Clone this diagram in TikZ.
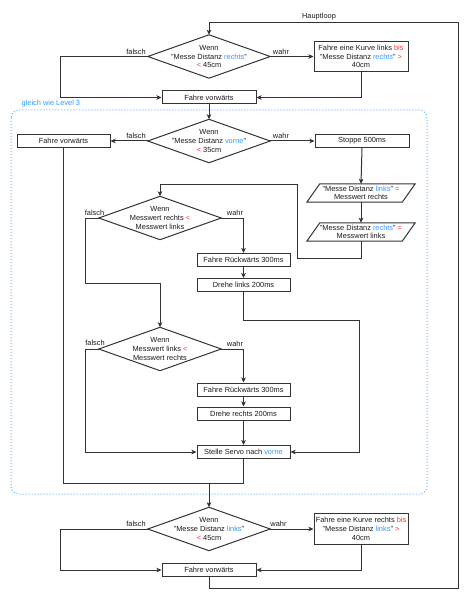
\documentclass[tikz,border=0pt]{standalone}
\usepackage{fontspec}
\setmainfont{Liberation Sans}
\usetikzlibrary{arrows.meta}
\definecolor{bl}{HTML}{3399FF}
\definecolor{rd}{HTML}{FF3333}
\definecolor{ln}{HTML}{333333}
\definecolor{txt}{HTML}{1A1A1A}
\definecolor{dotc}{HTML}{66B2FF}
\newcommand\tx{\fontsize{7.4}{8.7}\selectfont}
\newcommand\bluetxt[1]{\textcolor{bl}{#1}}
\newcommand\redtxt[1]{\textcolor{rd}{#1}}
\newcommand\drawdiamond[1]{\draw[line] (#1.north) -- (#1.east) -- (#1.south) -- (#1.west) -- cycle;}
\newcommand\drawpara[1]{\draw[line] ([xshift=6.5pt]#1.north west) -- ([xshift=6.5pt]#1.north east) -- ([xshift=-6.5pt]#1.south east) -- ([xshift=-6.5pt]#1.south west) -- cycle;}
\begin{document}
\begin{tikzpicture}[x=1pt,y=-1pt,
  line/.style={draw=ln, line width=1pt},
  arr/.style={line, -{Stealth[length=5pt,width=4.5pt,inset=1.2pt]}},
  box/.style={draw=ln, line width=1pt, rectangle, minimum width=94pt, minimum height=13pt, inner sep=0pt, font=\tx, text=txt, align=center},
  dia/.style={rectangle, minimum width=122pt, minimum height=43pt, inner sep=0pt, font=\tx, text=txt, align=center},
  para/.style={rectangle, minimum width=95pt, minimum height=18pt, inner sep=0pt, font=\tx, text=txt, align=center},
  lbl/.style={font=\tx, text=txt, inner sep=0pt}]
\useasboundingbox (0,0) rectangle (474,604);

% container
\draw[dotc, line width=1pt, dash pattern=on 1pt off 2pt, rounded corners=8pt] (11,110) rectangle (427,494);
\node[lbl, text=bl, anchor=west] (lvl) at (21.5,104) {gleich wie Level 3};

% nodes
\node[dia] (d1) at (209,56.5) {Wenn\\"Messe Distanz \bluetxt{rechts}"\\\redtxt{<} 45cm};
\node[box, minimum height=30pt] (b1) at (361,56.5) {Fahre eine Kurve links \redtxt{bis}\\"Messe Distanz \bluetxt{rechts}" \redtxt{>}\\40cm};
\node[box] (fv1) at (209,97.5) {Fahre vorwärts};
\node[dia] (d2) at (209,141) {Wenn\\"Messe Distanz \bluetxt{vorne}"\\\redtxt{<} 35cm};
\node[box, minimum width=93pt] (fv2) at (63.5,141) {Fahre vorwärts};
\node[box] (st) at (362,141) {Stoppe 500ms};
\node[para] (p1) at (361,193) {"Messe Distanz \bluetxt{links}" \redtxt{=}\\Messwert rechts};
\node[para] (p2) at (361,232) {"Messe Distanz \bluetxt{rechts}" \redtxt{=}\\Messwert links};
\node[dia] (d3) at (160,218) {Wenn\\Messwert rechts \redtxt{<}\\Messwert links};
\node[box, minimum width=93pt] (fr1) at (243.5,260) {Fahre Rückwärts 300ms};
\node[box, minimum width=93pt] (dl) at (243.5,285) {Drehe links 200ms};
\node[dia] (d4) at (160,349) {Wenn\\Messwert links \redtxt{<}\\Messwert rechts};
\node[box, minimum width=93pt] (fr2) at (243.5,389.5) {Fahre Rückwärts 300ms};
\node[box, minimum width=93pt] (dr) at (243.5,413.5) {Drehe rechts 200ms};
\node[box, minimum width=93pt] (ss) at (243.5,452) {Stelle Servo nach \bluetxt{vorne}};
\node[dia] (d5) at (209,529) {Wenn\\"Messe Distanz \bluetxt{links}"\\\redtxt{<} 45cm};
\node[box, minimum height=31pt] (b5) at (361,529) {Fahre eine Kurve rechts \redtxt{bis}\\"Messe Distanz \bluetxt{links}" \redtxt{>}\\40cm};
\node[box] (fv3) at (209,570) {Fahre vorwärts};

\drawdiamond{d1}
\drawdiamond{d2}
\drawdiamond{d3}
\drawdiamond{d4}
\drawdiamond{d5}
\drawpara{p1}
\drawpara{p2}

% main loop
\coordinate (lbr) at (458,588);
\coordinate (ltr) at (458,23);
\draw[arr] (fv3.south) |- (lbr) -- (ltr) -| (d1.north);
\node[lbl] (hl) at (319,16.5) {Hauptloop};

% level top
\coordinate (f1) at (60,56.5);
\draw[arr] (d1.west) -- (f1) |- (fv1.west);
\draw[arr] (d1.east) -- (b1.west);
\draw[arr] (b1.south) |- (fv1.east);
\draw[arr] (fv1.south) -- (d2.north);
\node[lbl] (l1f) at (136,51.5) {falsch};
\node[lbl] (l1w) at (281,51.5) {wahr};

% container content
\draw[arr] (d2.west) -- (fv2.east);
\draw[arr] (d2.east) -- (st.west);
\node[lbl] (l2f) at (136,135.5) {falsch};
\node[lbl] (l2w) at (281,135.5) {wahr};
\draw[arr] (st.south) -- (p1.north);
\draw[arr] (p1.south) -- (p2.north);
\coordinate (c3) at (297,258);
\coordinate (c4) at (297,184);
\draw[arr] (p2.south) |- (c3) -- (c4) -| (d3.north);

\coordinate (c5) at (85,218);
\coordinate (c7) at (160,283);
\draw[arr] (d3.west) -- (c5) |- (c7) -- (d4.north);
\draw[arr] (d3.east) -| (fr1.north);
\node[lbl] (l3f) at (94.5,212.5) {falsch};
\node[lbl] (l3w) at (235,212.5) {wahr};
\draw[arr] (fr1.south) -- (dl.north);
\coordinate (c8) at (359,320);
\draw[arr] (dl.south) |- (c8) |- (ss.east);

\coordinate (c9) at (85,349);
\draw[arr] (d4.west) -- (c9) |- (ss.west);
\draw[arr] (d4.east) -| (fr2.north);
\node[lbl] (l4f) at (95,343) {falsch};
\node[lbl] (l4w) at (235,343.5) {wahr};
\draw[arr] (fr2.south) -- (dr.north);
\draw[arr] (dr.south) -- (ss.north);

\coordinate (j) at (209,483);
\draw[line] (fv2.south) |- (j);
\draw[line] (ss.south) |- (j);
\draw[arr] (j) -- (d5.north);

% bottom level
\coordinate (f5) at (60,529);
\draw[arr] (d5.west) -- (f5) |- (fv3.west);
\draw[arr] (d5.east) -- (b5.west);
\draw[arr] (b5.south) |- (fv3.east);
\node[lbl] (l5f) at (136,523.5) {falsch};
\node[lbl] (l5w) at (278.5,523.5) {wahr};
\end{tikzpicture}
\end{document}
